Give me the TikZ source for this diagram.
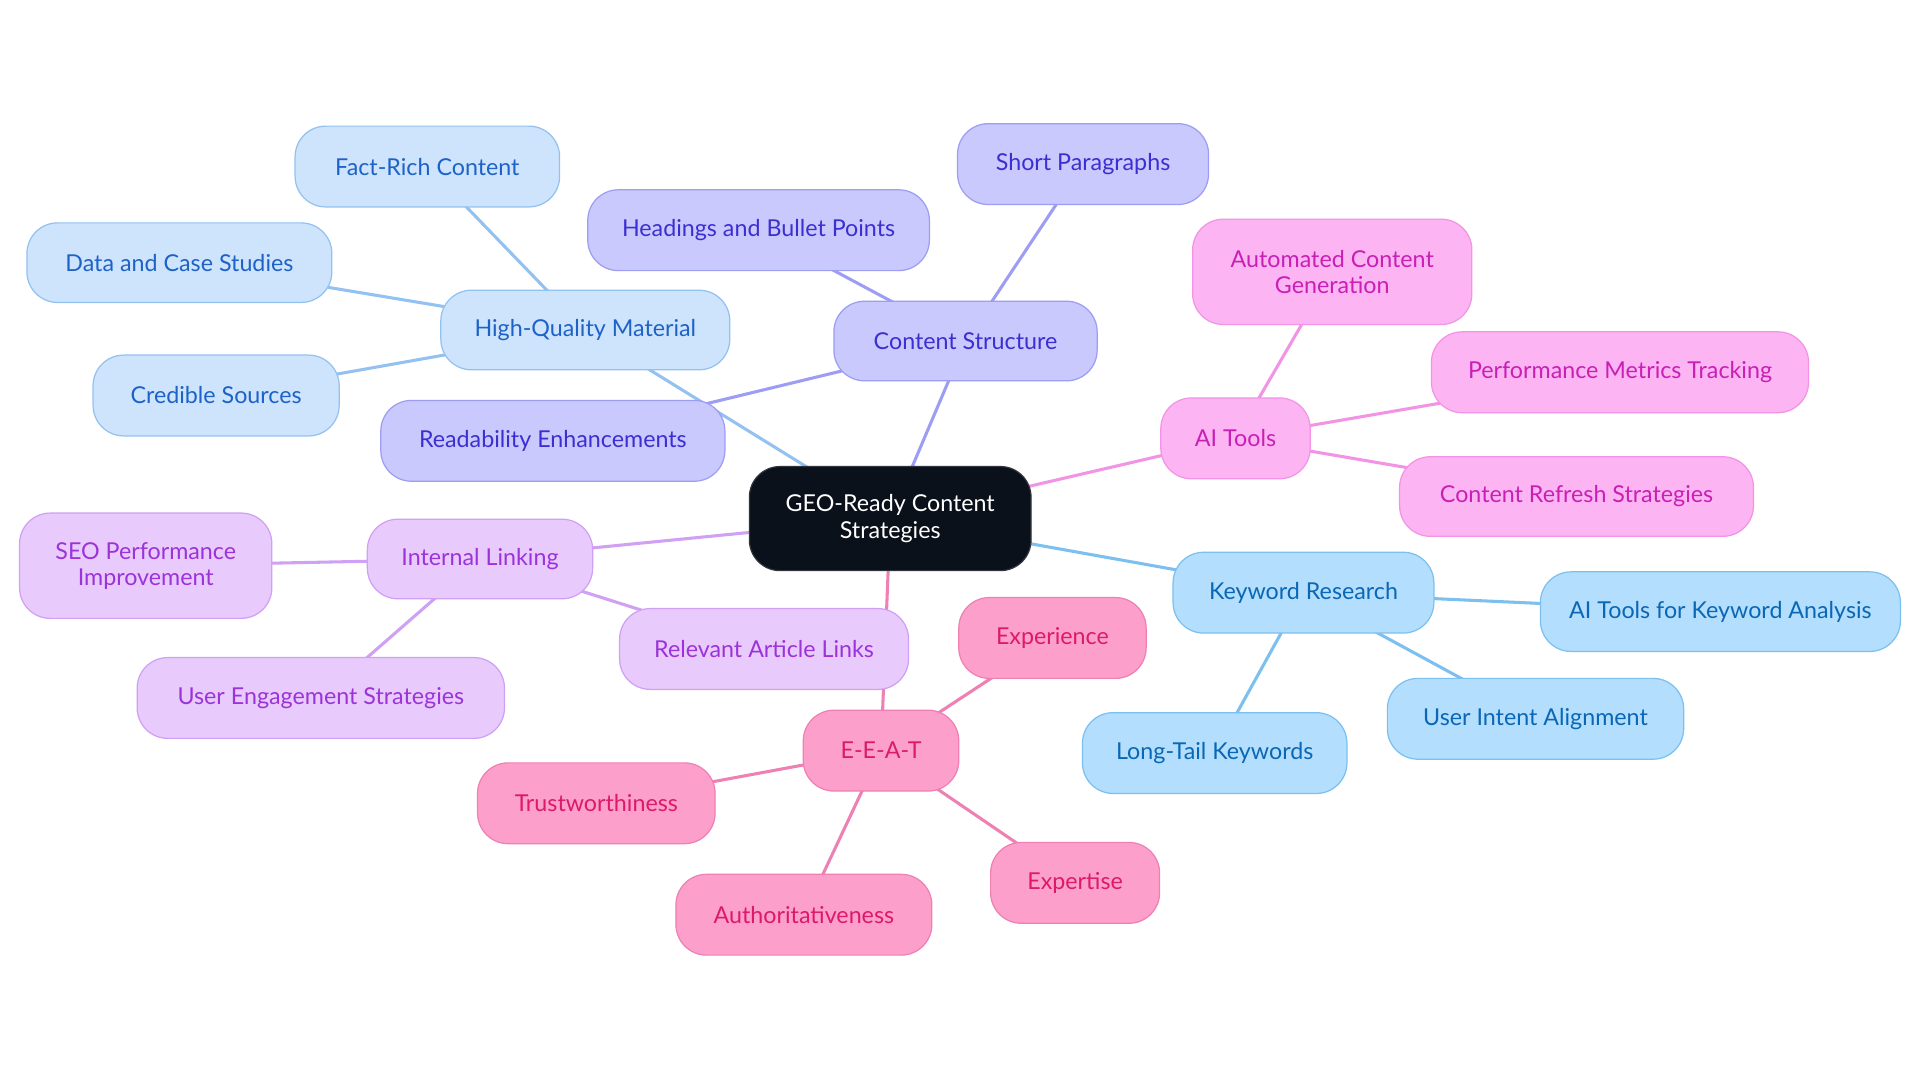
\documentclass[tikz,border=0pt]{standalone}
\usepackage{fontspec}
\setmainfont{Lato}
\usetikzlibrary{backgrounds}
\definecolor{hqfill}{HTML}{CDE4FC}\definecolor{hqdraw}{HTML}{93C1F0}\definecolor{hqtext}{HTML}{1E62C8}
\definecolor{csfill}{HTML}{C9C9FD}\definecolor{csdraw}{HTML}{9D9DF3}\definecolor{cstext}{HTML}{3B2FD1}
\definecolor{aifill}{HTML}{FDB4F3}\definecolor{aidraw}{HTML}{F294E5}\definecolor{aitext}{HTML}{C81FB5}
\definecolor{kwfill}{HTML}{B3DEFD}\definecolor{kwdraw}{HTML}{7CC0EF}\definecolor{kwtext}{HTML}{0A67B5}
\definecolor{ilfill}{HTML}{E8CAFD}\definecolor{ildraw}{HTML}{CFA0F3}\definecolor{iltext}{HTML}{9B33D9}
\definecolor{eefill}{HTML}{FD9FCB}\definecolor{eedraw}{HTML}{EE80B3}\definecolor{eetext}{HTML}{DB1A6A}
\definecolor{rootfill}{HTML}{0B111B}\definecolor{rootdraw}{HTML}{30353D}
\tikzset{
  box/.style={draw, line width=1pt, rounded corners=25pt, align=center, inner sep=0pt,
    font=\fontsize{19}{21.5}\selectfont},
  rootbox/.style={box, fill=rootfill, draw=rootdraw, text=white},
  hqbox/.style={box, fill=hqfill, draw=hqdraw, text=hqtext},
  csbox/.style={box, fill=csfill, draw=csdraw, text=cstext},
  aibox/.style={box, fill=aifill, draw=aidraw, text=aitext},
  kwbox/.style={box, fill=kwfill, draw=kwdraw, text=kwtext},
  ilbox/.style={box, fill=ilfill, draw=ildraw, text=iltext},
  eebox/.style={box, fill=eefill, draw=eedraw, text=eetext},
  link/.style={line width=2.5pt},
  hqlink/.style={link, draw=hqdraw},
  cslink/.style={link, draw=csdraw},
  ailink/.style={link, draw=aidraw},
  kwlink/.style={link, draw=kwdraw},
  illink/.style={link, draw=ildraw},
  eelink/.style={link, draw=eedraw},
}
\newcommand{\bx}[6]{\node[#1, minimum width=#4pt, minimum height=#5pt] (#2) at (#3) {#6};}
\begin{document}
\begin{tikzpicture}[x=1pt,y=-1pt]
\useasboundingbox (0,0) rectangle (1568,884.4);
\bx{rootbox}{root}{727,423.5}{230}{85}{GEO-Ready Content\\Strategies}
\bx{hqbox}{hq}{478,269.5}{236}{65}{High-Quality Material}
\bx{hqbox}{fact}{349,136}{216}{66}{Fact-Rich Content}
\bx{hqbox}{data}{146.5,214.5}{249}{65}{Data and Case Studies}
\bx{hqbox}{cred}{176.5,323}{201}{66}{Credible Sources}
\bx{csbox}{cs}{788.5,278.5}{215}{65}{Content Structure}
\bx{csbox}{head}{619.5,188}{279}{66}{Headings and Bullet Points}
\bx{csbox}{short}{884.5,134}{205}{66}{Short Paragraphs}
\bx{csbox}{read}{451.5,360}{281}{66}{Readability Enhancements}
\bx{aibox}{ai}{1009,358}{122}{66}{AI Tools}
\bx{aibox}{auto}{1088,222}{228}{86}{Automated Content\\Generation}
\bx{aibox}{perf}{1323,304}{308}{66}{Performance Metrics Tracking}
\bx{aibox}{refr}{1287.5,405.5}{289}{65}{Content Refresh Strategies}
\bx{kwbox}{kw}{1064.5,484}{213}{66}{Keyword Research}
\bx{kwbox}{aikw}{1405,499.5}{294}{65}{AI Tools for Keyword Analysis}
\bx{kwbox}{uia}{1254,587}{242}{66}{User Intent Alignment}
\bx{kwbox}{ltk}{992,615}{216}{66}{Long-Tail Keywords}
\bx{ilbox}{il}{392,456.5}{184}{65}{Internal Linking}
\bx{ilbox}{seo}{119,462}{206}{86}{SEO Performance\\Improvement}
\bx{ilbox}{ues}{262,570}{300}{66}{User Engagement Strategies}
\bx{ilbox}{ral}{624,530}{236}{66}{Relevant Article Links}
\bx{eebox}{ee}{719.5,613}{127}{66}{E-E-A-T}
\bx{eebox}{exp}{859.5,521}{153}{66}{Experience}
\bx{eebox}{trust}{487,656}{194}{66}{Trustworthiness}
\bx{eebox}{auth}{656.5,747}{209}{66}{Authoritativeness}
\bx{eebox}{expt}{878,721}{138}{66}{Expertise}
\begin{scope}[on background layer]
\fill[white] (0,0) rectangle (1568,884.4);
\draw[hqlink] (root.center) -- (hq.center);
\draw[hqlink] (hq.center) -- (fact.center);
\draw[hqlink] (hq.center) -- (data.center);
\draw[hqlink] (hq.center) -- (cred.center);
\draw[cslink] (root.center) -- (cs.center);
\draw[cslink] (cs.center) -- (head.center);
\draw[cslink] (cs.center) -- (short.center);
\draw[cslink] (cs.center) -- (read.center);
\draw[ailink] (root.center) -- (ai.center);
\draw[ailink] (ai.center) -- (auto.center);
\draw[ailink] (ai.center) -- (perf.center);
\draw[ailink] (ai.center) -- (refr.center);
\draw[kwlink] (root.center) -- (kw.center);
\draw[kwlink] (kw.center) -- (aikw.center);
\draw[kwlink] (kw.center) -- (uia.center);
\draw[kwlink] (kw.center) -- (ltk.center);
\draw[illink] (root.center) -- (il.center);
\draw[illink] (il.center) -- (seo.center);
\draw[illink] (il.center) -- (ues.center);
\draw[illink] (il.center) -- (ral.center);
\draw[eelink] (root.center) -- (ee.center);
\draw[eelink] (ee.center) -- (exp.center);
\draw[eelink] (ee.center) -- (trust.center);
\draw[eelink] (ee.center) -- (auth.center);
\draw[eelink] (ee.center) -- (expt.center);
\end{scope}
\end{tikzpicture}
\end{document}
